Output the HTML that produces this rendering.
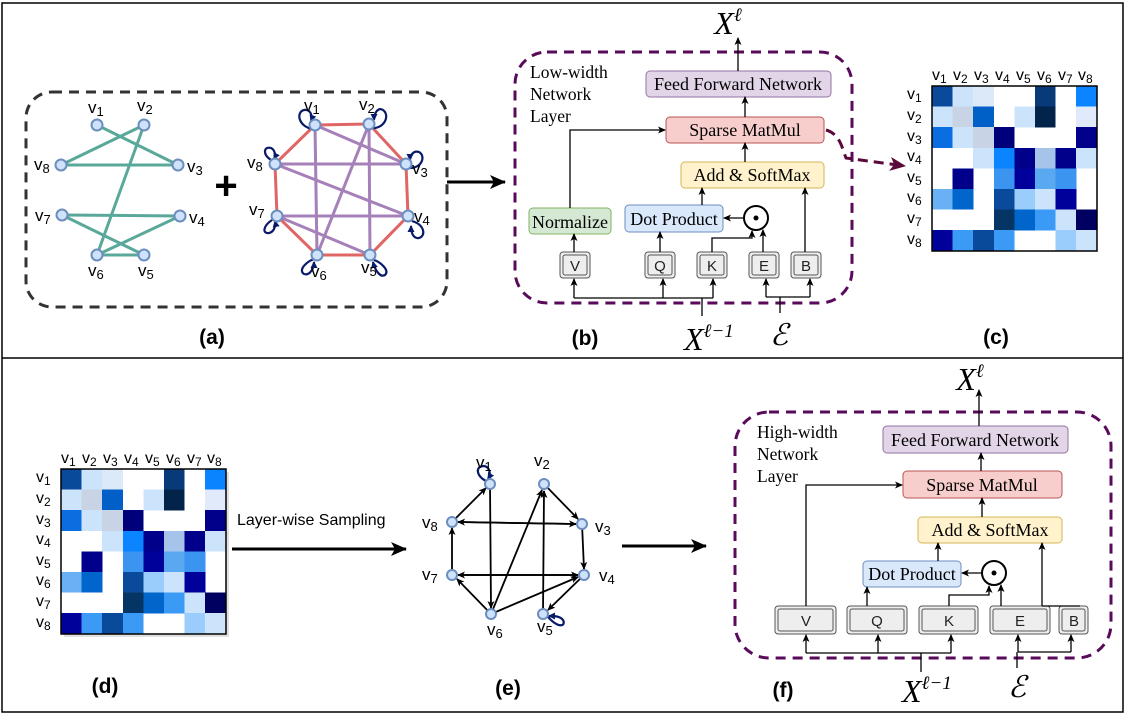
<!DOCTYPE html>
<html><head><meta charset="utf-8"><style>
html,body{margin:0;padding:0;background:#fff}
svg{display:block}
.s{font-family:"Liberation Sans",sans-serif}
.r{font-family:"Liberation Serif",serif}
</style></head><body>
<svg width="1126" height="717" viewBox="0 0 1126 717" xmlns="http://www.w3.org/2000/svg">
<defs>
<marker id="ah" markerWidth="8" markerHeight="8" refX="7" refY="4" orient="auto" markerUnits="userSpaceOnUse"><path d="M0,0.5 L8,4 L0,7.5 L2,4z" fill="#000"/></marker>
<marker id="ab" markerWidth="16" markerHeight="14" refX="15" refY="7" orient="auto" markerUnits="userSpaceOnUse"><path d="M0,0 L16,7 L0,14 L4,7z" fill="#000"/></marker>
<marker id="ap" markerWidth="16" markerHeight="14" refX="15" refY="7" orient="auto" markerUnits="userSpaceOnUse"><path d="M0,0 L16,7 L0,14 L4,7z" fill="#5a0a3a"/></marker>
<marker id="an" markerWidth="7" markerHeight="7" refX="6" refY="3.5" orient="auto" markerUnits="userSpaceOnUse"><path d="M0,0 L7,3.5 L0,7z" fill="#0a1a6a"/></marker>
<g id="mat">
<rect x="0" y="0" width="165" height="165" fill="#fff"/>
<g shape-rendering="crispEdges">
<rect x="0" y="0" width="20.7" height="20.7" fill="#0a4a9a"/><rect x="20.6" y="0" width="20.7" height="20.7" fill="#cce4fb"/><rect x="41.2" y="0" width="20.7" height="20.7" fill="#dce9f9"/><rect x="103" y="0" width="20.7" height="20.7" fill="#083a7a"/><rect x="144.2" y="0" width="20.7" height="20.7" fill="#0a84ff"/>
<rect x="0" y="20.6" width="20.7" height="20.7" fill="#cce4fb"/><rect x="20.6" y="20.6" width="20.7" height="20.7" fill="#c8d4e6"/><rect x="41.2" y="20.6" width="20.7" height="20.7" fill="#0060c8"/><rect x="82.4" y="20.6" width="20.7" height="20.7" fill="#cce4fb"/><rect x="103" y="20.6" width="20.7" height="20.7" fill="#02244a"/><rect x="144.2" y="20.6" width="20.7" height="20.7" fill="#e0eafb"/>
<rect x="0" y="41.2" width="20.7" height="20.7" fill="#0a6ee0"/><rect x="20.6" y="41.2" width="20.7" height="20.7" fill="#cce4fb"/><rect x="41.2" y="41.2" width="20.7" height="20.7" fill="#c8d4e6"/><rect x="61.8" y="41.2" width="20.7" height="20.7" fill="#00007a"/><rect x="144.2" y="41.2" width="20.7" height="20.7" fill="#00008a"/>
<rect x="41.2" y="61.8" width="20.7" height="20.7" fill="#cce4fb"/><rect x="61.8" y="61.8" width="20.7" height="20.7" fill="#0a84ff"/><rect x="82.4" y="61.8" width="20.7" height="20.7" fill="#00008a"/><rect x="103" y="61.8" width="20.7" height="20.7" fill="#a6c4ea"/><rect x="123.6" y="61.8" width="20.7" height="20.7" fill="#00008a"/><rect x="144.2" y="61.8" width="20.7" height="20.7" fill="#cce4fb"/>
<rect x="20.6" y="82.4" width="20.7" height="20.7" fill="#00008a"/><rect x="61.8" y="82.4" width="20.7" height="20.7" fill="#3a94f0"/><rect x="82.4" y="82.4" width="20.7" height="20.7" fill="#00009a"/><rect x="103" y="82.4" width="20.7" height="20.7" fill="#5aa8f0"/><rect x="123.6" y="82.4" width="20.7" height="20.7" fill="#3a94f0"/>
<rect x="0" y="103" width="20.7" height="20.7" fill="#6ab0f4"/><rect x="20.6" y="103" width="20.7" height="20.7" fill="#0066cc"/><rect x="61.8" y="103" width="20.7" height="20.7" fill="#0a4a9a"/><rect x="82.4" y="103" width="20.7" height="20.7" fill="#9acdfb"/><rect x="103" y="103" width="20.7" height="20.7" fill="#cce4fb"/><rect x="123.6" y="103" width="20.7" height="20.7" fill="#00009a"/>
<rect x="61.8" y="123.6" width="20.7" height="20.7" fill="#053565"/><rect x="82.4" y="123.6" width="20.7" height="20.7" fill="#0066cc"/><rect x="103" y="123.6" width="20.7" height="20.7" fill="#3a9af5"/><rect x="123.6" y="123.6" width="20.7" height="20.7" fill="#cce4fb"/><rect x="144.2" y="123.6" width="20.7" height="20.7" fill="#000060"/>
<rect x="0" y="144.2" width="20.7" height="20.7" fill="#00009a"/><rect x="20.6" y="144.2" width="20.7" height="20.7" fill="#3a9af5"/><rect x="41.2" y="144.2" width="20.7" height="20.7" fill="#0a4a9a"/><rect x="61.8" y="144.2" width="20.7" height="20.7" fill="#3a9af5"/><rect x="123.6" y="144.2" width="20.7" height="20.7" fill="#9acdfb"/><rect x="144.2" y="144.2" width="20.7" height="20.7" fill="#cce4fb"/>
</g>
<rect x="0" y="0" width="165" height="165" fill="none" stroke="#000" stroke-width="1.5"/>
</g>
</defs>

<rect x="2" y="3" width="1121" height="709" fill="none" stroke="#000" stroke-width="1.5"/>
<line x1="2" y1="358" x2="1123" y2="358" stroke="#000" stroke-width="1.5"/>

<!-- (a) -->
<rect x="26" y="92" width="421" height="215" rx="26" fill="none" stroke="#333" stroke-width="3" stroke-dasharray="10,7"/>
<g stroke="#5aa89a" stroke-width="3">
<line x1="97" y1="125" x2="178" y2="165"/><line x1="144" y1="125" x2="61" y2="165"/><line x1="61" y1="165" x2="178" y2="165"/>
<line x1="144" y1="125" x2="97" y2="255"/><line x1="62" y1="215" x2="180" y2="216"/><line x1="62" y1="215" x2="144" y2="255"/>
<line x1="180" y1="216" x2="97" y2="255"/><line x1="97" y1="255" x2="144" y2="255"/>
</g>
<g fill="#cfe2fb" stroke="#6c8ebf" stroke-width="2">
<circle cx="97" cy="125" r="5.5"/><circle cx="144" cy="125" r="5.5"/><circle cx="61" cy="165" r="5.5"/><circle cx="178" cy="165" r="5.5"/>
<circle cx="62" cy="215" r="5.5"/><circle cx="180" cy="216" r="5.5"/><circle cx="97" cy="255" r="5.5"/><circle cx="144" cy="255" r="5.5"/>
</g>
<g class="s" font-size="17" fill="#000">
<text x="88" y="113">v<tspan font-size="13" dy="3">1</tspan></text><text x="137" y="111">v<tspan font-size="13" dy="3">2</tspan></text>
<text x="34" y="170">v<tspan font-size="13" dy="3">8</tspan></text><text x="187" y="172">v<tspan font-size="13" dy="3">3</tspan></text>
<text x="35" y="221">v<tspan font-size="13" dy="3">7</tspan></text><text x="189" y="223">v<tspan font-size="13" dy="3">4</tspan></text>
<text x="88" y="276">v<tspan font-size="13" dy="3">6</tspan></text><text x="138" y="276">v<tspan font-size="13" dy="3">5</tspan></text>
</g>
<text x="226" y="199" class="s" font-size="40" font-weight="bold" text-anchor="middle">+</text>
<polygon points="315,125 369,124 406,164 408,216 370,255 317,255 277,216 275,164" stroke="#e06666" stroke-width="3" fill="none"/>
<g stroke="#a680b8" stroke-width="3">
<line x1="315" y1="125" x2="317" y2="255"/><line x1="315" y1="125" x2="406" y2="164"/><line x1="369" y1="124" x2="317" y2="255"/><line x1="369" y1="124" x2="370" y2="255"/>
<line x1="275" y1="164" x2="406" y2="164"/><line x1="275" y1="164" x2="408" y2="216"/><line x1="277" y1="216" x2="408" y2="216"/><line x1="277" y1="216" x2="370" y2="255"/>
</g>
<g stroke="#0a1a6a" stroke-width="2.2" fill="none" marker-end="url(#an)">
<path d="M312,129 C298,126 296,112 304,110 C310,109 313,115 311,121"/>
<path d="M373,128 C385,128 390,115 383,110 C378,107 374,113 374,120"/>
<path d="M410,168 C422,168 426,156 419,152 C413,150 410,156 410,160"/>
<path d="M412,221 C425,225 426,236 419,238 C413,239 411,232 411,226"/>
<path d="M374,260 C380,262 390,270 385,275 C380,278 375,270 373,262"/>
<path d="M314,259 C306,262 298,270 304,274 C310,276 314,268 314,262"/>
<path d="M272,220 C263,226 262,234 269,233 C274,232 276,226 275,221"/>
<path d="M271,160 C262,154 264,146 271,148 C275,150 276,155 274,159"/>
</g>
<g fill="#cfe2fb" stroke="#6c8ebf" stroke-width="2">
<circle cx="315" cy="125" r="5.5"/><circle cx="369" cy="124" r="5.5"/><circle cx="406" cy="164" r="5.5"/><circle cx="408" cy="216" r="5.5"/>
<circle cx="370" cy="255" r="5.5"/><circle cx="317" cy="255" r="5.5"/><circle cx="277" cy="216" r="5.5"/><circle cx="275" cy="164" r="5.5"/>
</g>
<g class="s" font-size="17" fill="#000">
<text x="304" y="111">v<tspan font-size="13" dy="3">1</tspan></text><text x="359" y="110">v<tspan font-size="13" dy="3">2</tspan></text>
<text x="412" y="174">v<tspan font-size="13" dy="3">3</tspan></text><text x="414" y="222">v<tspan font-size="13" dy="3">4</tspan></text>
<text x="361" y="273">v<tspan font-size="13" dy="3">5</tspan></text><text x="311" y="277">v<tspan font-size="13" dy="3">6</tspan></text>
<text x="249" y="215">v<tspan font-size="13" dy="3">7</tspan></text><text x="247" y="168">v<tspan font-size="13" dy="3">8</tspan></text>
</g>
<line x1="447" y1="182" x2="505" y2="182" stroke="#000" stroke-width="3" marker-end="url(#ab)"/>

<!-- (b) -->
<rect x="515" y="52" width="337" height="251" rx="32" fill="none" stroke="#5a0a5a" stroke-width="3" stroke-dasharray="10,7"/>
<g class="r" font-size="17.5" fill="#000"><text x="530" y="78">Low-width</text><text x="530" y="100">Network</text><text x="530" y="122">Layer</text></g>
<g stroke-width="1">
<rect x="646" y="71" width="185" height="26" rx="4" fill="#e1d5e7" stroke="#9673a6"/>
<rect x="666" y="117" width="158" height="26" rx="4" fill="#f8cecc" stroke="#b85450"/>
<rect x="681" y="162" width="143" height="26" rx="4" fill="#fff2cc" stroke="#d6b656"/>
<rect x="625" y="205" width="98" height="27" rx="4" fill="#dae8fc" stroke="#6c8ebf"/>
<rect x="529" y="208" width="82" height="26" rx="4" fill="#d5e8d4" stroke="#82b366"/>
</g>
<g class="r" font-size="18" text-anchor="middle" fill="#000">
<text x="738" y="90">Feed Forward Network</text><text x="745" y="136">Sparse MatMul</text>
<text x="752" y="181">Add &amp; SoftMax</text><text x="674" y="225">Dot Product</text><text x="570" y="228">Normalize</text>
</g>
<circle cx="756" cy="218" r="12" fill="#fff" stroke="#000" stroke-width="2"/><circle cx="756" cy="218" r="2.5" fill="#000"/>
<g fill="#eee" stroke="#555" stroke-width="1">
<rect x="560" y="252" width="30" height="26" rx="3"/><rect x="645" y="252" width="30" height="26" rx="3"/><rect x="697" y="252" width="30" height="26" rx="3"/><rect x="749" y="252" width="30" height="26" rx="3"/><rect x="791" y="252" width="30" height="26" rx="3"/>
</g>
<g fill="none" stroke="#555" stroke-width="1">
<rect x="563" y="255" width="24" height="20" rx="2"/><rect x="648" y="255" width="24" height="20" rx="2"/><rect x="700" y="255" width="24" height="20" rx="2"/><rect x="752" y="255" width="24" height="20" rx="2"/><rect x="794" y="255" width="24" height="20" rx="2"/>
</g>
<g class="s" font-size="15" text-anchor="middle" fill="#222">
<text x="575" y="271">V</text><text x="660" y="271">Q</text><text x="712" y="271">K</text><text x="764" y="271">E</text><text x="806" y="271">B</text>
</g>
<g stroke="#000" stroke-width="1.3" fill="none" marker-end="url(#ah)">
<line x1="738" y1="71" x2="738" y2="38"/>
<line x1="745" y1="117" x2="745" y2="97"/>
<line x1="745" y1="162" x2="745" y2="143"/>
<line x1="702" y1="205" x2="702" y2="188"/>
<line x1="805" y1="252" x2="805" y2="188"/>
<polyline points="570,208 570,130 665,130"/>
<line x1="574" y1="252" x2="574" y2="234"/>
<line x1="660" y1="252" x2="660" y2="232"/>
<line x1="744" y1="218" x2="724" y2="218"/>
<polyline points="712,252 712,238 752,238 752,231"/>
<line x1="763" y1="252" x2="763" y2="230"/>
<line x1="574" y1="298" x2="574" y2="279"/>
<line x1="663" y1="298" x2="663" y2="279"/>
<line x1="713" y1="298" x2="713" y2="279"/>
<line x1="766" y1="297" x2="766" y2="279"/>
<line x1="810" y1="297" x2="810" y2="279"/>
</g>
<g stroke="#000" stroke-width="1.3"><line x1="574" y1="298" x2="713" y2="298"/><line x1="702" y1="298" x2="702" y2="316"/><line x1="766" y1="297" x2="810" y2="297"/><line x1="780" y1="297" x2="780" y2="313"/></g>
<text x="728" y="34" class="r" font-size="32" font-style="italic" text-anchor="middle">X<tspan font-size="19" dy="-13">ℓ</tspan></text>
<text x="684" y="350" class="r" font-size="32" font-style="italic">X<tspan font-size="19" dy="-13">ℓ−1</tspan></text>
<text x="770" y="345" class="r" font-size="30" font-style="italic">ℰ</text>
<path d="M826,130 C840,134 842,148 846,158 L905,166" fill="none" stroke="#5a0a3a" stroke-width="3" stroke-dasharray="10,6" marker-end="url(#ap)"/>

<!-- (c) -->
<use href="#mat" x="932" y="86"/>
<g class="s" font-size="16" fill="#000">
<text x="932" y="80">v<tspan font-size="12" dy="3">1</tspan></text><text x="953" y="80">v<tspan font-size="12" dy="3">2</tspan></text><text x="974" y="80">v<tspan font-size="12" dy="3">3</tspan></text><text x="995" y="80">v<tspan font-size="12" dy="3">4</tspan></text><text x="1016" y="80">v<tspan font-size="12" dy="3">5</tspan></text><text x="1037" y="80">v<tspan font-size="12" dy="3">6</tspan></text><text x="1058" y="80">v<tspan font-size="12" dy="3">7</tspan></text><text x="1078" y="80">v<tspan font-size="12" dy="3">8</tspan></text>
<text x="907" y="99">v<tspan font-size="12" dy="3">1</tspan></text><text x="907" y="120">v<tspan font-size="12" dy="3">2</tspan></text><text x="907" y="141">v<tspan font-size="12" dy="3">3</tspan></text><text x="907" y="161">v<tspan font-size="12" dy="3">4</tspan></text><text x="907" y="182">v<tspan font-size="12" dy="3">5</tspan></text><text x="907" y="202">v<tspan font-size="12" dy="3">6</tspan></text><text x="907" y="223">v<tspan font-size="12" dy="3">7</tspan></text><text x="907" y="244">v<tspan font-size="12" dy="3">8</tspan></text>
</g>

<g class="s" font-size="21" font-weight="bold" text-anchor="middle" fill="#000">
<text x="212" y="344">(a)</text><text x="585" y="345">(b)</text><text x="996" y="344">(c)</text>
<text x="105" y="693">(d)</text><text x="508" y="695">(e)</text><text x="783" y="697">(f)</text>
</g>

<!-- (d) -->
<rect x="64" y="472" width="165" height="165" fill="#ccc" opacity="0.6"/>
<use href="#mat" x="61" y="469"/>
<g class="s" font-size="16" fill="#000">
<text x="61" y="463">v<tspan font-size="12" dy="3">1</tspan></text><text x="82" y="463">v<tspan font-size="12" dy="3">2</tspan></text><text x="103" y="463">v<tspan font-size="12" dy="3">3</tspan></text><text x="124" y="463">v<tspan font-size="12" dy="3">4</tspan></text><text x="145" y="463">v<tspan font-size="12" dy="3">5</tspan></text><text x="166" y="463">v<tspan font-size="12" dy="3">6</tspan></text><text x="187" y="463">v<tspan font-size="12" dy="3">7</tspan></text><text x="207" y="463">v<tspan font-size="12" dy="3">8</tspan></text>
<text x="36" y="482">v<tspan font-size="12" dy="3">1</tspan></text><text x="36" y="503">v<tspan font-size="12" dy="3">2</tspan></text><text x="36" y="524">v<tspan font-size="12" dy="3">3</tspan></text><text x="36" y="544">v<tspan font-size="12" dy="3">4</tspan></text><text x="36" y="565">v<tspan font-size="12" dy="3">5</tspan></text><text x="36" y="585">v<tspan font-size="12" dy="3">6</tspan></text><text x="36" y="606">v<tspan font-size="12" dy="3">7</tspan></text><text x="36" y="627">v<tspan font-size="12" dy="3">8</tspan></text>
</g>
<text x="237" y="525" class="s" font-size="16">Layer-wise Sampling</text>
<line x1="232" y1="549" x2="406" y2="549" stroke="#000" stroke-width="3" marker-end="url(#ab)"/>

<!-- (e) -->
<g stroke="#000" stroke-width="1.8" fill="none" marker-end="url(#ah)">
<line x1="452" y1="522" x2="486" y2="488"/>
<line x1="490" y1="484" x2="491" y2="608"/>
<line x1="491" y1="614" x2="542" y2="490"/>
<line x1="543" y1="614" x2="544" y2="491"/>
<line x1="544" y1="484" x2="578" y2="519"/>
<line x1="582" y1="524" x2="584" y2="569"/>
<line x1="584" y1="575" x2="548" y2="610"/>
<line x1="491" y1="614" x2="578" y2="577"/>
<line x1="491" y1="614" x2="457" y2="579"/>
<line x1="452" y1="575" x2="452" y2="528"/>
<line x1="458" y1="522" x2="576" y2="524"/>
<line x1="576" y1="524" x2="458" y2="522"/>
<line x1="458" y1="575" x2="578" y2="575"/>
<line x1="578" y1="575" x2="458" y2="575"/>
</g>
<g stroke="#0a1a6a" stroke-width="2.2" fill="none" marker-end="url(#an)">
<path d="M486,481 C476,476 475,466 484,466 C490,467 491,474 488,479"/>
<path d="M548,617 C560,630 566,625 563,620 C560,616 554,616 549,616"/>
</g>
<g fill="#cfe2fb" stroke="#6c8ebf" stroke-width="2">
<circle cx="490" cy="484" r="5"/><circle cx="544" cy="484" r="5"/><circle cx="582" cy="524" r="5"/><circle cx="584" cy="575" r="5"/>
<circle cx="543" cy="614" r="5"/><circle cx="491" cy="614" r="5"/><circle cx="452" cy="575" r="5"/><circle cx="452" cy="522" r="5"/>
</g>
<g class="s" font-size="17" fill="#000">
<text x="476" y="468">v<tspan font-size="13" dy="3">1</tspan></text><text x="534" y="466">v<tspan font-size="13" dy="3">2</tspan></text>
<text x="595" y="532">v<tspan font-size="13" dy="3">3</tspan></text><text x="599" y="581">v<tspan font-size="13" dy="3">4</tspan></text>
<text x="537" y="632">v<tspan font-size="13" dy="3">5</tspan></text><text x="487" y="635">v<tspan font-size="13" dy="3">6</tspan></text>
<text x="422" y="580">v<tspan font-size="13" dy="3">7</tspan></text><text x="422" y="528">v<tspan font-size="13" dy="3">8</tspan></text>
</g>
<line x1="622" y1="546" x2="706" y2="546" stroke="#000" stroke-width="3" marker-end="url(#ab)"/>

<!-- (f) -->
<rect x="735" y="412" width="376" height="246" rx="34" fill="none" stroke="#5a0a5a" stroke-width="3" stroke-dasharray="10,7"/>
<g class="r" font-size="17.5" fill="#000"><text x="757" y="438">High-width</text><text x="757" y="460">Network</text><text x="757" y="482">Layer</text></g>
<g stroke-width="1">
<rect x="883" y="426" width="185" height="27" rx="4" fill="#e1d5e7" stroke="#9673a6"/>
<rect x="903" y="471" width="159" height="27" rx="4" fill="#f8cecc" stroke="#b85450"/>
<rect x="918" y="517" width="144" height="26" rx="4" fill="#fff2cc" stroke="#d6b656"/>
<rect x="863" y="561" width="98" height="26" rx="4" fill="#dae8fc" stroke="#6c8ebf"/>
</g>
<g class="r" font-size="18" text-anchor="middle" fill="#000">
<text x="975" y="446">Feed Forward Network</text><text x="982" y="491">Sparse MatMul</text>
<text x="990" y="536">Add &amp; SoftMax</text><text x="912" y="580">Dot Product</text>
</g>
<circle cx="994" cy="573" r="12" fill="#fff" stroke="#000" stroke-width="2"/><circle cx="994" cy="573" r="2.5" fill="#000"/>
<g fill="#eee" stroke="#555" stroke-width="1">
<rect x="775" y="606" width="61" height="28" rx="3"/><rect x="847" y="606" width="60" height="28" rx="3"/><rect x="919" y="606" width="59" height="28" rx="3"/><rect x="990" y="606" width="60" height="28" rx="3"/><rect x="1059" y="606" width="29" height="28" rx="3"/>
</g>
<g fill="none" stroke="#555" stroke-width="1">
<rect x="778" y="609" width="55" height="22" rx="2"/><rect x="850" y="609" width="54" height="22" rx="2"/><rect x="922" y="609" width="53" height="22" rx="2"/><rect x="993" y="609" width="54" height="22" rx="2"/><rect x="1062" y="609" width="23" height="22" rx="2"/>
</g>
<g class="s" font-size="15" text-anchor="middle" fill="#222">
<text x="806" y="626">V</text><text x="877" y="626">Q</text><text x="949" y="626">K</text><text x="1020" y="626">E</text><text x="1074" y="626">B</text>
</g>
<g stroke="#000" stroke-width="1.3" fill="none" marker-end="url(#ah)">
<line x1="979" y1="426" x2="979" y2="390"/>
<line x1="981" y1="471" x2="981" y2="453"/>
<line x1="982" y1="517" x2="982" y2="498"/>
<line x1="938" y1="561" x2="938" y2="543"/>
<line x1="1042" y1="606" x2="1042" y2="543"/>
<polyline points="806,606 806,485 902,485"/>
<line x1="867" y1="606" x2="867" y2="587"/>
<line x1="982" y1="573" x2="962" y2="573"/>
<polyline points="949,606 949,595 989,595 989,586"/>
<line x1="1001" y1="606" x2="1001" y2="585"/>
<line x1="806" y1="653" x2="806" y2="635"/>
<line x1="878" y1="653" x2="878" y2="635"/>
<line x1="951" y1="653" x2="951" y2="635"/>
<line x1="1018" y1="652" x2="1018" y2="635"/>
<line x1="1071" y1="652" x2="1071" y2="635"/>
</g>
<g stroke="#000" stroke-width="1.3"><line x1="806" y1="653" x2="951" y2="653"/><line x1="921" y1="653" x2="921" y2="672"/><line x1="1018" y1="652" x2="1071" y2="652"/><line x1="1017" y1="652" x2="1017" y2="668"/><line x1="1042" y1="606" x2="1080" y2="606"/></g>
<text x="970" y="390" class="r" font-size="32" font-style="italic" text-anchor="middle">X<tspan font-size="19" dy="-13">ℓ</tspan></text>
<text x="902" y="702" class="r" font-size="32" font-style="italic">X<tspan font-size="19" dy="-13">ℓ−1</tspan></text>
<text x="1008" y="697" class="r" font-size="30" font-style="italic">ℰ</text>
</svg>
</body></html>
